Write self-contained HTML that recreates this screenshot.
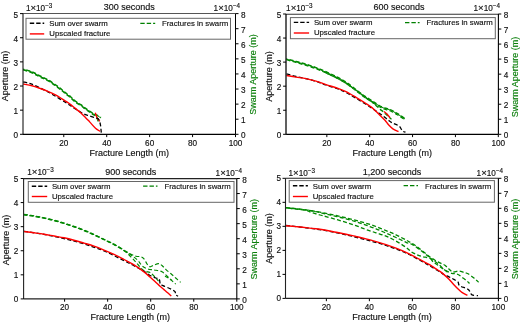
<!DOCTYPE html>
<html><head><meta charset="utf-8"><style>
html,body{margin:0;padding:0;background:#fff;width:520px;height:322px;overflow:hidden}
svg{display:block}
text{font-family:'Liberation Sans', Arial, Helvetica, sans-serif;fill:#111;stroke:#111;stroke-width:0.15px}
.tk{font-size:8.2px}
.ti{font-size:9px}
.ex{font-size:8.2px}
.sup{font-size:6.3px}
.tm{font-size:9.6px}
.gr{fill:#0a7f0a;stroke:#0a7f0a}
.lg{font-size:7.8px}
</style></head><body>
<svg width="520" height="322" viewBox="0 0 520 322">
<rect width="520" height="322" fill="#fff"/>
<path d="M23.3,69.5 C24.73,69.93 29.12,70.97 31.9,72.1 C34.68,73.23 37.35,74.97 40,76.3 C42.65,77.63 45.22,78.62 47.8,80.1 C50.38,81.58 53.17,83.57 55.5,85.2 C57.83,86.83 60.05,88.52 61.8,89.9 C63.55,91.28 64.52,92.28 66,93.5 C67.48,94.72 69.15,95.88 70.7,97.2 C72.25,98.52 73.6,100.08 75.3,101.4 C77,102.72 79.22,103.9 80.9,105.1 C82.58,106.3 84,107.58 85.4,108.6 C86.8,109.62 88,110.32 89.3,111.2 C90.6,112.08 91.92,113.18 93.2,113.9 C94.48,114.62 95.7,114.82 97,115.5 C98.3,116.18 100.33,117.58 101,118" fill="none" stroke="#080" stroke-width="1.0" />
<path d="M23.3,69.5 C24.73,69.93 29.12,70.97 31.9,72.1 C34.68,73.23 37.35,74.97 40,76.3 C42.65,77.63 45.22,78.62 47.8,80.1 C50.38,81.58 53.17,83.57 55.5,85.2 C57.83,86.83 60.05,88.52 61.8,89.9 C63.55,91.28 64.52,92.28 66,93.5 C67.48,94.72 69.15,95.88 70.7,97.2 C72.25,98.52 73.6,100.08 75.3,101.4 C77,102.72 79.22,103.9 80.9,105.1 C82.58,106.3 84,107.58 85.4,108.6 C86.8,109.62 88,110.32 89.3,111.2 C90.6,112.08 91.92,113.18 93.2,113.9 C94.48,114.62 95.7,114.82 97,115.5 C98.3,116.18 100.33,117.58 101,118" fill="none" stroke="#080" stroke-width="1.3" stroke-dasharray="4 2.3" stroke-dashoffset="3.1" transform="translate(0,-0.5)"/>
<path d="M23.3,69.9 C24.73,70.38 29.12,71.62 31.9,72.8 C34.68,73.98 37.35,75.67 40,77 C42.65,78.33 45.22,79.32 47.8,80.8 C50.38,82.28 53.17,84.27 55.5,85.9 C57.83,87.53 60.05,89.22 61.8,90.6 C63.55,91.98 64.52,92.98 66,94.2 C67.48,95.42 69.15,96.58 70.7,97.9 C72.25,99.22 73.6,100.78 75.3,102.1 C77,103.42 79.22,104.6 80.9,105.8 C82.58,107 84,108.28 85.4,109.3 C86.8,110.32 88,111.02 89.3,111.9 C90.6,112.78 92.08,113.83 93.2,114.6 C94.32,115.37 95.12,115.3 96,116.5 C96.88,117.7 98.08,120.92 98.5,121.8" fill="none" stroke="#080" stroke-width="1.3" stroke-dasharray="4 2.3" />
<path d="M95.3,112.8 C95.58,113.58 96.25,116.08 97,117.5 C97.75,118.92 99.33,120.67 99.8,121.3" fill="none" stroke="#f00" stroke-width="1.4" />
<path d="M23.3,82 C24.33,82.23 27.23,82.67 29.5,83.4 C31.77,84.13 34.32,85.25 36.9,86.4 C39.48,87.55 42.52,89.03 45,90.3 C47.48,91.57 49.42,92.62 51.8,94 C54.18,95.38 56.93,97.17 59.3,98.6 C61.67,100.03 64.23,101.5 66,102.6 C67.77,103.7 68.6,104.32 69.9,105.2 C71.2,106.08 72.5,107.02 73.8,107.9 C75.1,108.78 76.42,109.7 77.7,110.5 C78.98,111.3 80.22,112.02 81.5,112.7 C82.78,113.38 84.1,114.08 85.4,114.6 C86.7,115.12 87.87,115.32 89.3,115.8 C90.73,116.28 92.72,117.08 94,117.5 C95.28,117.92 96.2,117.97 97,118.3 C97.8,118.63 98.23,118.45 98.8,119.5 C99.37,120.55 99.98,122.42 100.4,124.6 C100.82,126.78 101.15,131.27 101.3,132.6" fill="none" stroke="#000" stroke-width="1.3" stroke-dasharray="4 2.3" />
<path d="M23.3,84 C24.75,84.3 29.22,85.07 32,85.8 C34.78,86.53 37.37,87.48 40,88.4 C42.63,89.32 45.22,90.22 47.8,91.3 C50.38,92.38 53.13,93.65 55.5,94.9 C57.87,96.15 60.25,97.72 62,98.8 C63.75,99.88 64.55,100.43 66,101.4 C67.45,102.37 69.15,103.43 70.7,104.6 C72.25,105.77 73.6,107 75.3,108.4 C77,109.8 79.22,111.5 80.9,113 C82.58,114.5 84.13,116.13 85.4,117.4 C86.67,118.67 87.57,119.6 88.5,120.6 C89.43,121.6 89.83,122.13 91,123.4 C92.17,124.67 94,126.88 95.5,128.2 C97,129.52 99.25,130.78 100,131.3" fill="none" stroke="#f00" stroke-width="1.4" />
<path d="M286.5,59.2 C288.08,59.63 292.75,60.9 296,61.8 C299.25,62.7 302.67,63.57 306,64.6 C309.33,65.63 312.67,66.73 316,68 C319.33,69.27 322.33,70.55 326,72.2 C329.67,73.85 334.67,76.17 338,77.9 C341.33,79.63 343,80.58 346,82.6 C349,84.62 353.33,88 356,90 C358.67,92 360.33,93.37 362,94.6 C363.67,95.83 364.33,96.28 366,97.4 C367.67,98.52 370.33,100.22 372,101.3 C373.67,102.38 374.33,102.88 376,103.9 C377.67,104.92 380.33,106.6 382,107.4 C383.67,108.2 384.7,108.3 386,108.7 C387.3,109.1 388.55,109.3 389.8,109.8 C391.05,110.3 392.27,111.03 393.5,111.7 C394.73,112.37 395.95,113.03 397.2,113.8 C398.45,114.57 399.7,115.43 401,116.3 C402.3,117.17 404.33,118.55 405,119" fill="none" stroke="#080" stroke-width="1.0" />
<path d="M326,72.2 C328,73.15 334.67,76.17 338,77.9 C341.33,79.63 343,80.58 346,82.6 C349,84.62 353.33,88 356,90 C358.67,92 360.33,93.37 362,94.6 C363.67,95.83 364.33,96.28 366,97.4 C367.67,98.52 370.33,100.22 372,101.3 C373.67,102.38 374.33,102.88 376,103.9 C377.67,104.92 380.33,106.6 382,107.4 C383.67,108.2 384.7,108.3 386,108.7 C387.3,109.1 388.55,109.3 389.8,109.8 C391.05,110.3 392.27,111.03 393.5,111.7 C394.73,112.37 395.95,113.03 397.2,113.8 C398.45,114.57 399.7,115.43 401,116.3 C402.3,117.17 404.33,118.55 405,119" fill="none" stroke="#080" stroke-dasharray="4 2.3" stroke-dashoffset="1.5" stroke-width="1.1" transform="translate(0,0.9)"/>
<path d="M286.5,59.2 C288.08,59.63 292.75,60.9 296,61.8 C299.25,62.7 302.67,63.57 306,64.6 C309.33,65.63 312.67,66.73 316,68 C319.33,69.27 322.33,70.55 326,72.2 C329.67,73.85 334.67,76.17 338,77.9 C341.33,79.63 343,80.58 346,82.6 C349,84.62 353.33,88 356,90 C358.67,92 360.33,93.37 362,94.6 C363.67,95.83 364.33,96.28 366,97.4 C367.67,98.52 370.33,100.22 372,101.3 C373.67,102.38 374.33,102.88 376,103.9 C377.67,104.92 380.33,106.6 382,107.4 C383.67,108.2 384.7,108.3 386,108.7 C387.3,109.1 388.55,109.3 389.8,109.8 C391.05,110.3 392.27,111.03 393.5,111.7 C394.73,112.37 395.95,113.03 397.2,113.8 C398.45,114.57 399.7,115.43 401,116.3 C402.3,117.17 404.33,118.55 405,119" fill="none" stroke="#080" stroke-width="1.3" stroke-dasharray="4 2.3" stroke-dashoffset="3.1" transform="translate(0,-0.5)"/>
<path d="M286.5,59.6 C288.08,60.08 292.75,61.55 296,62.5 C299.25,63.45 302.67,64.27 306,65.3 C309.33,66.33 312.67,67.43 316,68.7 C319.33,69.97 322.33,71.25 326,72.9 C329.67,74.55 334.67,76.87 338,78.6 C341.33,80.33 343,81.37 346,83.3 C349,85.23 352.67,87.75 356,90.2 C359.33,92.65 363.33,96.03 366,98 C368.67,99.97 370.33,100.75 372,102 C373.67,103.25 374.67,104.3 376,105.5 C377.33,106.7 378.7,108.08 380,109.2 C381.3,110.32 382.53,111.07 383.8,112.2 C385.07,113.33 386.32,114.83 387.6,116 C388.88,117.17 390.85,118.67 391.5,119.2" fill="none" stroke="#080" stroke-width="1.3" stroke-dasharray="4 2.3" />
<path d="M384,111.5 C384.5,111.92 386,112.95 387,114 C388,115.05 389.5,117.17 390,117.8" fill="none" stroke="#f00" stroke-width="1.4" />
<path d="M286.5,73.9 C288.08,74.33 292.75,75.72 296,76.5 C299.25,77.28 302.67,77.78 306,78.6 C309.33,79.42 312.67,80.33 316,81.4 C319.33,82.47 322.33,83.73 326,85 C329.67,86.27 334.67,87.75 338,89 C341.33,90.25 343,90.97 346,92.5 C349,94.03 352.67,96.23 356,98.2 C359.33,100.17 363.25,102.57 366,104.3 C368.75,106.03 370.48,107.23 372.5,108.6 C374.52,109.97 376.45,111.37 378.1,112.5 C379.75,113.63 381.08,114.43 382.4,115.4 C383.72,116.37 384.83,117.37 386,118.3 C387.17,119.23 388.25,120.18 389.4,121 C390.55,121.82 391.6,122.53 392.9,123.2 C394.2,123.87 396.05,124.42 397.2,125 C398.35,125.58 399.07,125.92 399.8,126.7 C400.53,127.48 401.02,128.9 401.6,129.7 C402.18,130.5 402.65,131.08 403.3,131.5 C403.95,131.92 405.13,132.08 405.5,132.2" fill="none" stroke="#000" stroke-width="1.3" stroke-dasharray="4 2.3" />
<path d="M286.5,75.5 C288.08,75.77 292.75,76.58 296,77.1 C299.25,77.62 302.67,77.93 306,78.6 C309.33,79.27 312.67,80.1 316,81.1 C319.33,82.1 322.33,83.4 326,84.6 C329.67,85.8 334.67,87.13 338,88.3 C341.33,89.47 343,90.1 346,91.6 C349,93.1 352.67,95.32 356,97.3 C359.33,99.28 363.33,101.78 366,103.5 C368.67,105.22 370.25,106.22 372,107.6 C373.75,108.98 375.05,110.38 376.5,111.8 C377.95,113.22 379.28,114.7 380.7,116.1 C382.12,117.5 383.7,118.75 385,120.2 C386.3,121.65 387.18,123.37 388.5,124.8 C389.82,126.23 391.23,127.67 392.9,128.8 C394.57,129.93 397.57,131.13 398.5,131.6" fill="none" stroke="#f00" stroke-width="1.4" />
<path d="M24,214.3 C25.67,214.55 30.67,215.23 34,215.8 C37.33,216.37 40.67,216.98 44,217.7 C47.33,218.42 50.67,219.22 54,220.1 C57.33,220.98 60.67,221.97 64,223 C67.33,224.03 70.67,225.13 74,226.3 C77.33,227.47 80.67,228.65 84,230 C87.33,231.35 90.67,232.87 94,234.4 C97.33,235.93 100.67,237.58 104,239.2 C107.33,240.82 110.67,242.28 114,244.1 C117.33,245.92 121.17,248.4 124,250.1 C126.83,251.8 129,253.28 131,254.3 C133,255.32 134.33,255.78 136,256.2 C137.67,256.62 139.67,256.37 141,256.8 C142.33,257.23 142.93,257.52 144,258.8 C145.07,260.08 146.4,263.17 147.4,264.5 C148.4,265.83 148.97,266.67 150,266.8 C151.03,266.93 152.18,265.83 153.6,265.3 C155.02,264.77 157.1,263.57 158.5,263.6 C159.9,263.63 160.75,264.5 162,265.5 C163.25,266.5 164.5,268.22 166,269.6 C167.5,270.98 169.33,272.37 171,273.8 C172.67,275.23 174.4,276.77 176,278.2 C177.6,279.63 179.83,281.7 180.6,282.4" fill="none" stroke="#080" stroke-dasharray="4 2.3" stroke-dashoffset="0" stroke-width="1.15"/>
<path d="M24,214.9 C25.67,215.15 30.67,215.83 34,216.4 C37.33,216.97 40.67,217.58 44,218.3 C47.33,219.02 50.67,219.82 54,220.7 C57.33,221.58 60.67,222.57 64,223.6 C67.33,224.63 70.67,225.73 74,226.9 C77.33,228.07 80.67,229.25 84,230.6 C87.33,231.95 90.67,233.47 94,235 C97.33,236.53 100.67,238.18 104,239.8 C107.33,241.42 110.67,242.88 114,244.7 C117.33,246.52 121.17,248.98 124,250.7 C126.83,252.42 128.77,253.47 131,255 C133.23,256.53 135.73,258.32 137.4,259.9 C139.07,261.48 139.9,263.27 141,264.5 C142.1,265.73 142.73,266.52 144,267.3 C145.27,268.08 147.22,268.78 148.6,269.2 C149.98,269.62 151.07,269.62 152.3,269.8 C153.53,269.98 154.38,269.97 156,270.3 C157.62,270.63 160,270.68 162,271.8 C164,272.92 165.72,274.93 168,277 C170.28,279.07 174.42,283 175.7,284.2" fill="none" stroke="#080" stroke-dasharray="4 2.3" stroke-dashoffset="1.0" stroke-width="1.15"/>
<path d="M24,214.6 C25.67,214.85 30.67,215.53 34,216.1 C37.33,216.67 40.67,217.28 44,218 C47.33,218.72 50.67,219.52 54,220.4 C57.33,221.28 60.67,222.27 64,223.3 C67.33,224.33 70.67,225.43 74,226.6 C77.33,227.77 80.67,228.95 84,230.3 C87.33,231.65 90.67,233.17 94,234.7 C97.33,236.23 100.67,237.88 104,239.5 C107.33,241.12 110.67,242.58 114,244.4 C117.33,246.22 121.33,248.47 124,250.4 C126.67,252.33 128.18,254.22 130,256 C131.82,257.78 133.45,259.52 134.9,261.1 C136.35,262.68 137.45,264.1 138.7,265.5 C139.95,266.9 141.17,268.5 142.4,269.5 C143.63,270.5 144.83,271 146.1,271.5 C147.37,272 148.68,271.75 150,272.5 C151.32,273.25 152.58,274.55 154,276 C155.42,277.45 157.75,280.33 158.5,281.2" fill="none" stroke="#080" stroke-dasharray="4 2.3" stroke-dashoffset="0.5" stroke-width="1.15"/>
<path d="M165,276.2 C165.5,276.47 166.83,277.08 168,277.8 C169.17,278.52 171.33,280.05 172,280.5" fill="none" stroke="#080" stroke-width="1.3" stroke-dasharray="4 2.3" />
<path d="M24,231.3 C27.33,231.82 37.33,233.18 44,234.4 C50.67,235.62 57.33,237.02 64,238.6 C70.67,240.18 77.33,241.85 84,243.9 C90.67,245.95 97.33,248.1 104,250.9 C110.67,253.7 119,258.23 124,260.7 C129,263.17 130.67,263.93 134,265.7 C137.33,267.47 141.33,269.67 144,271.3 C146.67,272.93 148,274.38 150,275.5 C152,276.62 154.45,277.33 156,278 C157.55,278.67 158.58,278.5 159.3,279.5 C160.02,280.5 159.68,282.98 160.3,284 C160.92,285.02 161.17,284.73 163,285.6 C164.83,286.47 169.3,288.18 171.3,289.2 C173.3,290.22 174.27,290.77 175,291.7 C175.73,292.63 175.18,294.05 175.7,294.8 C176.22,295.55 177.7,295.97 178.1,296.2" fill="none" stroke="#000" stroke-width="1.3" stroke-dasharray="4 2.3" />
<path d="M24,231.5 C25.67,231.72 30.67,232.35 34,232.8 C37.33,233.25 40.67,233.67 44,234.2 C47.33,234.73 50.67,235.4 54,236 C57.33,236.6 60.67,237.1 64,237.8 C67.33,238.5 70.67,239.32 74,240.2 C77.33,241.08 80.67,242.1 84,243.1 C87.33,244.1 90.67,245.03 94,246.2 C97.33,247.37 100.67,248.73 104,250.1 C107.33,251.47 110.67,252.83 114,254.4 C117.33,255.97 120.67,257.75 124,259.5 C127.33,261.25 130.67,262.83 134,264.9 C137.33,266.97 141.33,269.88 144,271.9 C146.67,273.92 148,275.23 150,277 C152,278.77 154.33,280.95 156,282.5 C157.67,284.05 158.67,285.12 160,286.3 C161.33,287.48 162.83,288.6 164,289.6 C165.17,290.6 165.78,291.23 167,292.3 C168.22,293.37 170.58,295.38 171.3,296" fill="none" stroke="#f00" stroke-width="1.4" />
<path d="M286,207.6 C287.67,207.77 292.67,208.23 296,208.6 C299.33,208.97 302.67,209.32 306,209.8 C309.33,210.28 312.67,210.9 316,211.5 C319.33,212.1 322.67,212.73 326,213.4 C329.33,214.07 332.67,214.77 336,215.5 C339.33,216.23 342.67,216.98 346,217.8 C349.33,218.62 352.67,219.5 356,220.4 C359.33,221.3 362.67,222.18 366,223.2 C369.33,224.22 372.67,225.27 376,226.5 C379.33,227.73 382.67,229.22 386,230.6 C389.33,231.98 392.67,233.23 396,234.8 C399.33,236.37 403.33,238.58 406,240 C408.67,241.42 410.17,242.18 412,243.3 C413.83,244.42 415.35,245.48 417,246.7 C418.65,247.92 420.25,249.28 421.9,250.6 C423.55,251.92 425.55,253.53 426.9,254.6 C428.25,255.67 428.65,256.07 430,257 C431.35,257.93 433.35,259.23 435,260.2 C436.65,261.17 438.25,261.95 439.9,262.8 C441.55,263.65 443.4,264.28 444.9,265.3 C446.4,266.32 447.8,267.9 448.9,268.9 C450,269.9 450.65,270.78 451.5,271.3 C452.35,271.82 452.77,272.05 454,272 C455.23,271.95 457.25,270.92 458.9,271 C460.55,271.08 462.38,272.03 463.9,272.5 C465.42,272.97 466.32,272.87 468,273.8 C469.68,274.73 472.23,276.7 474,278.1 C475.77,279.5 477.83,281.52 478.6,282.2" fill="none" stroke="#080" stroke-width="1.3" stroke-dasharray="4 2.3" stroke-dashoffset="0"/>
<path d="M286,207.8 C287.67,207.98 292.67,208.52 296,208.9 C299.33,209.28 302.67,209.63 306,210.1 C309.33,210.57 312.67,211.03 316,211.7 C319.33,212.37 322.67,213.32 326,214.1 C329.33,214.88 332.67,215.62 336,216.4 C339.33,217.18 342.67,217.9 346,218.8 C349.33,219.7 352.67,220.73 356,221.8 C359.33,222.87 362.67,224.03 366,225.2 C369.33,226.37 372.67,227.48 376,228.8 C379.33,230.12 382.67,231.65 386,233.1 C389.33,234.55 392.67,235.97 396,237.5 C399.33,239.03 403.33,241.15 406,242.3 C408.67,243.45 410.17,243.52 412,244.4 C413.83,245.28 415.35,246.45 417,247.6 C418.65,248.75 420.25,250.02 421.9,251.3 C423.55,252.58 425.55,254.25 426.9,255.3 C428.25,256.35 428.98,256.53 430,257.6 C431.02,258.67 431.67,260.43 433,261.7 C434.33,262.97 436.35,264.03 438,265.2 C439.65,266.37 441.25,267.62 442.9,268.7 C444.55,269.78 446.38,270.92 447.9,271.7 C449.42,272.48 450.73,273.05 452,273.4 C453.27,273.75 454.33,273.53 455.5,273.8 C456.67,274.07 457.77,274.32 459,275 C460.23,275.68 461.58,276.92 462.9,277.9 C464.22,278.88 465.8,279.97 466.9,280.9 C468,281.83 469.07,283.07 469.5,283.5" fill="none" stroke="#080" stroke-width="1.3" stroke-dasharray="4 2.3" stroke-dashoffset="2.1"/>
<path d="M286,208 C287.67,208.18 292.67,208.7 296,209.1 C299.33,209.5 303.67,209.93 306,210.4 C308.33,210.87 308.33,211.33 310,211.9 C311.67,212.47 314.33,213.28 316,213.8 C317.67,214.32 318.33,214.53 320,215 C321.67,215.47 323.33,215.87 326,216.6 C328.67,217.33 332.67,218.45 336,219.4 C339.33,220.35 342.67,221.25 346,222.3 C349.33,223.35 352.67,224.5 356,225.7 C359.33,226.9 362.67,228.32 366,229.5 C369.33,230.68 372.67,231.68 376,232.8 C379.33,233.92 382.67,234.83 386,236.2 C389.33,237.57 392.67,239.15 396,241 C399.33,242.85 403.33,245.43 406,247.3 C408.67,249.17 410.17,250.97 412,252.2 C413.83,253.43 415.35,253.98 417,254.7 C418.65,255.42 420.25,256.03 421.9,256.5 C423.55,256.97 425.55,257.22 426.9,257.5 C428.25,257.78 428.65,257.53 430,258.2 C431.35,258.87 433.33,260.28 435,261.5 C436.67,262.72 438.5,264.17 440,265.5 C441.5,266.83 442.67,268.33 444,269.5 C445.33,270.67 447.33,272 448,272.5" fill="none" stroke="#080" stroke-width="1.3" stroke-dasharray="4 2.3" stroke-dashoffset="4.2"/>
<path d="M286,225.5 C289.33,225.88 299.33,226.95 306,227.8 C312.67,228.65 319.33,229.43 326,230.6 C332.67,231.77 339.33,233.27 346,234.8 C352.67,236.33 359.33,238.02 366,239.8 C372.67,241.58 379.33,243.3 386,245.5 C392.67,247.7 399.33,249.98 406,253 C412.67,256.02 422,261.45 426,263.6 C430,265.75 427.68,264.52 430,265.9 C432.32,267.28 437.57,270.47 439.9,271.9 C442.23,273.33 442.48,273.67 444,274.5 C445.52,275.33 447.35,276.08 449,276.9 C450.65,277.72 452.42,278.57 453.9,279.4 C455.38,280.23 457.07,280.98 457.9,281.9 C458.73,282.82 458.4,284.15 458.9,284.9 C459.4,285.65 459.4,285.68 460.9,286.4 C462.4,287.12 466.38,288.3 467.9,289.2 C469.42,290.1 469.32,290.85 470,291.8 C470.68,292.75 470.67,294.27 472,294.9 C473.33,295.53 477,295.48 478,295.6" fill="none" stroke="#000" stroke-width="1.3" stroke-dasharray="4 2.3" />
<path d="M286,225.7 C287.67,225.85 292.67,226.28 296,226.6 C299.33,226.92 302.67,227.23 306,227.6 C309.33,227.97 312.67,228.35 316,228.8 C319.33,229.25 322.67,229.72 326,230.3 C329.33,230.88 332.67,231.65 336,232.3 C339.33,232.95 342.67,233.5 346,234.2 C349.33,234.9 352.67,235.72 356,236.5 C359.33,237.28 362.67,238.05 366,238.9 C369.33,239.75 372.67,240.65 376,241.6 C379.33,242.55 382.67,243.5 386,244.6 C389.33,245.7 392.67,246.9 396,248.2 C399.33,249.5 402.67,250.85 406,252.4 C409.33,253.95 412.67,255.77 416,257.5 C419.33,259.23 423.67,261.57 426,262.8 C428.33,264.03 428.33,263.88 430,264.9 C431.67,265.92 434.35,267.82 436,268.9 C437.65,269.98 438.57,270.45 439.9,271.4 C441.23,272.35 442.48,273.3 444,274.6 C445.52,275.9 447.35,277.52 449,279.2 C450.65,280.88 452.25,282.93 453.9,284.7 C455.55,286.47 457.57,288.52 458.9,289.8 C460.23,291.08 460.48,291.48 461.9,292.4 C463.32,293.32 466.48,294.82 467.4,295.3" fill="none" stroke="#f00" stroke-width="1.4" />
<line x1="23" y1="13.5" x2="235.5" y2="13.5" stroke="#555" stroke-width="1"/>
<line x1="23" y1="134.4" x2="235.5" y2="134.4" stroke="#000" stroke-width="1.1"/>
<line x1="23" y1="13.6" x2="23" y2="134.3" stroke="#000" stroke-width="1"/>
<line x1="235.5" y1="13.6" x2="235.5" y2="134.3" stroke="#000" stroke-width="1"/>
<line x1="20" y1="134.3" x2="23" y2="134.3" stroke="#000" stroke-width="1"/>
<text x="18.1" y="138.3" class="tk" text-anchor="end">0</text>
<line x1="20" y1="110.16" x2="23" y2="110.16" stroke="#000" stroke-width="1"/>
<text x="18.1" y="114.16" class="tk" text-anchor="end">1</text>
<line x1="20" y1="86.02" x2="23" y2="86.02" stroke="#000" stroke-width="1"/>
<text x="18.1" y="90.02" class="tk" text-anchor="end">2</text>
<line x1="20" y1="61.88" x2="23" y2="61.88" stroke="#000" stroke-width="1"/>
<text x="18.1" y="65.88" class="tk" text-anchor="end">3</text>
<line x1="20" y1="37.74" x2="23" y2="37.74" stroke="#000" stroke-width="1"/>
<text x="18.1" y="41.74" class="tk" text-anchor="end">4</text>
<line x1="20" y1="13.6" x2="23" y2="13.6" stroke="#000" stroke-width="1"/>
<text x="18.1" y="17.6" class="tk" text-anchor="end">5</text>
<line x1="235.5" y1="134.3" x2="238.5" y2="134.3" stroke="#000" stroke-width="1"/>
<text x="240.9" y="138.3" class="tk">0</text>
<line x1="235.5" y1="119.21" x2="238.5" y2="119.21" stroke="#000" stroke-width="1"/>
<text x="240.9" y="123.21" class="tk">1</text>
<line x1="235.5" y1="104.12" x2="238.5" y2="104.12" stroke="#000" stroke-width="1"/>
<text x="240.9" y="108.12" class="tk">2</text>
<line x1="235.5" y1="89.04" x2="238.5" y2="89.04" stroke="#000" stroke-width="1"/>
<text x="240.9" y="93.04" class="tk">3</text>
<line x1="235.5" y1="73.95" x2="238.5" y2="73.95" stroke="#000" stroke-width="1"/>
<text x="240.9" y="77.95" class="tk">4</text>
<line x1="235.5" y1="58.86" x2="238.5" y2="58.86" stroke="#000" stroke-width="1"/>
<text x="240.9" y="62.86" class="tk">5</text>
<line x1="235.5" y1="43.78" x2="238.5" y2="43.78" stroke="#000" stroke-width="1"/>
<text x="240.9" y="47.78" class="tk">6</text>
<line x1="235.5" y1="28.69" x2="238.5" y2="28.69" stroke="#000" stroke-width="1"/>
<text x="240.9" y="32.69" class="tk">7</text>
<line x1="235.5" y1="13.6" x2="238.5" y2="13.6" stroke="#000" stroke-width="1"/>
<text x="240.9" y="17.6" class="tk">8</text>
<line x1="63.78" y1="134.3" x2="63.78" y2="137.1" stroke="#000" stroke-width="1"/>
<text x="63.78" y="145.5" class="tk" text-anchor="middle">20</text>
<line x1="106.71" y1="134.3" x2="106.71" y2="137.1" stroke="#000" stroke-width="1"/>
<text x="106.71" y="145.5" class="tk" text-anchor="middle">40</text>
<line x1="149.64" y1="134.3" x2="149.64" y2="137.1" stroke="#000" stroke-width="1"/>
<text x="149.64" y="145.5" class="tk" text-anchor="middle">60</text>
<line x1="192.57" y1="134.3" x2="192.57" y2="137.1" stroke="#000" stroke-width="1"/>
<text x="192.57" y="145.5" class="tk" text-anchor="middle">80</text>
<line x1="235.5" y1="134.3" x2="235.5" y2="137.1" stroke="#000" stroke-width="1"/>
<text x="235.5" y="145.5" class="tk" text-anchor="middle">100</text>
<text x="129.25" y="9.8" class="ti" text-anchor="middle">300 seconds</text>
<text x="129.25" y="155.7" class="ti" text-anchor="middle">Fracture Length (m)</text>
<text x="25.9" y="11" class="ex">1<tspan class="tm">×</tspan>10<tspan dy="-3.0" class="sup">−3</tspan></text>
<text x="213.6" y="11.3" class="ex">1<tspan class="tm">×</tspan>10<tspan dy="-3.0" class="sup">−4</tspan></text>
<text transform="translate(8.4,75.95) rotate(-90)" class="ti" text-anchor="middle">Aperture (m)</text>
<text transform="translate(255.5,74.55) rotate(-90)" class="ti gr" text-anchor="middle">Swarm Aperture (m)</text>
<rect x="26" y="18.3" width="204.5" height="20.9" fill="#fff" stroke="#666" stroke-width="1"/>
<line x1="29.8" y1="23.2" x2="44.2" y2="23.2" stroke="#000" stroke-width="1.4" stroke-dasharray="4.4 2"/>
<line x1="29.8" y1="33.9" x2="44.2" y2="33.9" stroke="#f00" stroke-width="1.4"/>
<line x1="140.3" y1="23.4" x2="155.2" y2="23.4" stroke="#008000" stroke-width="1.4" stroke-dasharray="4.4 2"/>
<text x="49.3" y="25.8" class="lg">Sum over swarm</text>
<text x="49.3" y="35.6" class="lg">Upscaled fracture</text>
<text x="162" y="25.8" class="lg">Fractures in swarm</text>
<line x1="286.1" y1="14.2" x2="498.3" y2="14.2" stroke="#333" stroke-width="1.1"/>
<line x1="286.1" y1="134.4" x2="498.3" y2="134.4" stroke="#000" stroke-width="1.1"/>
<line x1="286" y1="14" x2="286" y2="134.3" stroke="#000" stroke-width="1.25"/>
<line x1="498.4" y1="14" x2="498.4" y2="134.3" stroke="#000" stroke-width="1.1"/>
<line x1="283.1" y1="134.3" x2="286.1" y2="134.3" stroke="#000" stroke-width="1"/>
<text x="281.2" y="138" class="tk" text-anchor="end">0</text>
<line x1="283.1" y1="110.24" x2="286.1" y2="110.24" stroke="#000" stroke-width="1"/>
<text x="281.2" y="113.94" class="tk" text-anchor="end">1</text>
<line x1="283.1" y1="86.18" x2="286.1" y2="86.18" stroke="#000" stroke-width="1"/>
<text x="281.2" y="89.88" class="tk" text-anchor="end">2</text>
<line x1="283.1" y1="62.12" x2="286.1" y2="62.12" stroke="#000" stroke-width="1"/>
<text x="281.2" y="65.82" class="tk" text-anchor="end">3</text>
<line x1="283.1" y1="38.06" x2="286.1" y2="38.06" stroke="#000" stroke-width="1"/>
<text x="281.2" y="41.76" class="tk" text-anchor="end">4</text>
<line x1="283.1" y1="14" x2="286.1" y2="14" stroke="#000" stroke-width="1"/>
<text x="281.2" y="17.7" class="tk" text-anchor="end">5</text>
<line x1="498.3" y1="134.3" x2="501.3" y2="134.3" stroke="#000" stroke-width="1"/>
<text x="503.7" y="138.3" class="tk">0</text>
<line x1="498.3" y1="119.26" x2="501.3" y2="119.26" stroke="#000" stroke-width="1"/>
<text x="503.7" y="123.26" class="tk">1</text>
<line x1="498.3" y1="104.23" x2="501.3" y2="104.23" stroke="#000" stroke-width="1"/>
<text x="503.7" y="108.23" class="tk">2</text>
<line x1="498.3" y1="89.19" x2="501.3" y2="89.19" stroke="#000" stroke-width="1"/>
<text x="503.7" y="93.19" class="tk">3</text>
<line x1="498.3" y1="74.15" x2="501.3" y2="74.15" stroke="#000" stroke-width="1"/>
<text x="503.7" y="78.15" class="tk">4</text>
<line x1="498.3" y1="59.11" x2="501.3" y2="59.11" stroke="#000" stroke-width="1"/>
<text x="503.7" y="63.11" class="tk">5</text>
<line x1="498.3" y1="44.08" x2="501.3" y2="44.08" stroke="#000" stroke-width="1"/>
<text x="503.7" y="48.08" class="tk">6</text>
<line x1="498.3" y1="29.04" x2="501.3" y2="29.04" stroke="#000" stroke-width="1"/>
<text x="503.7" y="33.04" class="tk">7</text>
<line x1="498.3" y1="14" x2="501.3" y2="14" stroke="#000" stroke-width="1"/>
<text x="503.7" y="18" class="tk">8</text>
<line x1="326.83" y1="134.3" x2="326.83" y2="137.1" stroke="#000" stroke-width="1"/>
<text x="326.83" y="145.5" class="tk" text-anchor="middle">20</text>
<line x1="369.69" y1="134.3" x2="369.69" y2="137.1" stroke="#000" stroke-width="1"/>
<text x="369.69" y="145.5" class="tk" text-anchor="middle">40</text>
<line x1="412.56" y1="134.3" x2="412.56" y2="137.1" stroke="#000" stroke-width="1"/>
<text x="412.56" y="145.5" class="tk" text-anchor="middle">60</text>
<line x1="455.43" y1="134.3" x2="455.43" y2="137.1" stroke="#000" stroke-width="1"/>
<text x="455.43" y="145.5" class="tk" text-anchor="middle">80</text>
<line x1="498.3" y1="134.3" x2="498.3" y2="137.1" stroke="#000" stroke-width="1"/>
<text x="498.3" y="145.5" class="tk" text-anchor="middle">100</text>
<text x="399" y="9.8" class="ti" text-anchor="middle">600 seconds</text>
<text x="392.2" y="155.7" class="ti" text-anchor="middle">Fracture Length (m)</text>
<text x="286.1" y="10.8" class="ex">1<tspan class="tm">×</tspan>10<tspan dy="-3.0" class="sup">−3</tspan></text>
<text x="473.5" y="11" class="ex">1<tspan class="tm">×</tspan>10<tspan dy="-3.0" class="sup">−4</tspan></text>
<text transform="translate(271.5,76.55) rotate(-90)" class="ti" text-anchor="middle">Aperture (m)</text>
<text transform="translate(518.3,76.95) rotate(-90)" class="ti gr" text-anchor="middle">Swarm Aperture (m)</text>
<rect x="290.4" y="17.6" width="204.9" height="21.1" fill="#fff" stroke="#666" stroke-width="1"/>
<line x1="293.8" y1="22.4" x2="309.1" y2="22.4" stroke="#000" stroke-width="1.4" stroke-dasharray="4.4 2"/>
<line x1="293.8" y1="33" x2="309.1" y2="33" stroke="#f00" stroke-width="1.4"/>
<line x1="405" y1="22.6" x2="419.6" y2="22.6" stroke="#008000" stroke-width="1.4" stroke-dasharray="4.4 2"/>
<text x="313.9" y="25.3" class="lg">Sum over swarm</text>
<text x="313.9" y="35.4" class="lg">Upscaled fracture</text>
<text x="426.5" y="25.3" class="lg">Fractures in swarm</text>
<line x1="23.7" y1="178.6" x2="236.8" y2="178.6" stroke="#222" stroke-width="1.1"/>
<line x1="23.7" y1="298.9" x2="236.8" y2="298.9" stroke="#222" stroke-width="1.1"/>
<line x1="23.6" y1="178.5" x2="23.6" y2="298.9" stroke="#222" stroke-width="1.1"/>
<line x1="236.8" y1="178.5" x2="236.8" y2="298.9" stroke="#000" stroke-width="1.1"/>
<line x1="20.7" y1="298.9" x2="23.7" y2="298.9" stroke="#000" stroke-width="1"/>
<text x="18.4" y="302.2" class="tk" text-anchor="end">0</text>
<line x1="20.7" y1="274.82" x2="23.7" y2="274.82" stroke="#000" stroke-width="1"/>
<text x="18.4" y="278.12" class="tk" text-anchor="end">1</text>
<line x1="20.7" y1="250.74" x2="23.7" y2="250.74" stroke="#000" stroke-width="1"/>
<text x="18.4" y="254.04" class="tk" text-anchor="end">2</text>
<line x1="20.7" y1="226.66" x2="23.7" y2="226.66" stroke="#000" stroke-width="1"/>
<text x="18.4" y="229.96" class="tk" text-anchor="end">3</text>
<line x1="20.7" y1="202.58" x2="23.7" y2="202.58" stroke="#000" stroke-width="1"/>
<text x="18.4" y="205.88" class="tk" text-anchor="end">4</text>
<line x1="20.7" y1="178.5" x2="23.7" y2="178.5" stroke="#000" stroke-width="1"/>
<text x="18.4" y="181.8" class="tk" text-anchor="end">5</text>
<line x1="236.8" y1="298.9" x2="239.8" y2="298.9" stroke="#000" stroke-width="1"/>
<text x="242.2" y="302.9" class="tk">0</text>
<line x1="236.8" y1="283.85" x2="239.8" y2="283.85" stroke="#000" stroke-width="1"/>
<text x="242.2" y="287.85" class="tk">1</text>
<line x1="236.8" y1="268.8" x2="239.8" y2="268.8" stroke="#000" stroke-width="1"/>
<text x="242.2" y="272.8" class="tk">2</text>
<line x1="236.8" y1="253.75" x2="239.8" y2="253.75" stroke="#000" stroke-width="1"/>
<text x="242.2" y="257.75" class="tk">3</text>
<line x1="236.8" y1="238.7" x2="239.8" y2="238.7" stroke="#000" stroke-width="1"/>
<text x="242.2" y="242.7" class="tk">4</text>
<line x1="236.8" y1="223.65" x2="239.8" y2="223.65" stroke="#000" stroke-width="1"/>
<text x="242.2" y="227.65" class="tk">5</text>
<line x1="236.8" y1="208.6" x2="239.8" y2="208.6" stroke="#000" stroke-width="1"/>
<text x="242.2" y="212.6" class="tk">6</text>
<line x1="236.8" y1="193.55" x2="239.8" y2="193.55" stroke="#000" stroke-width="1"/>
<text x="242.2" y="197.55" class="tk">7</text>
<line x1="236.8" y1="178.5" x2="239.8" y2="178.5" stroke="#000" stroke-width="1"/>
<text x="242.2" y="182.5" class="tk">8</text>
<line x1="64.6" y1="298.9" x2="64.6" y2="301.7" stroke="#000" stroke-width="1"/>
<text x="64.6" y="310.1" class="tk" text-anchor="middle">20</text>
<line x1="107.65" y1="298.9" x2="107.65" y2="301.7" stroke="#000" stroke-width="1"/>
<text x="107.65" y="310.1" class="tk" text-anchor="middle">40</text>
<line x1="150.7" y1="298.9" x2="150.7" y2="301.7" stroke="#000" stroke-width="1"/>
<text x="150.7" y="310.1" class="tk" text-anchor="middle">60</text>
<line x1="193.75" y1="298.9" x2="193.75" y2="301.7" stroke="#000" stroke-width="1"/>
<text x="193.75" y="310.1" class="tk" text-anchor="middle">80</text>
<line x1="236.8" y1="298.9" x2="236.8" y2="301.7" stroke="#000" stroke-width="1"/>
<text x="236.8" y="310.1" class="tk" text-anchor="middle">100</text>
<text x="130.75" y="174.7" class="ti" text-anchor="middle">900 seconds</text>
<text x="130.25" y="320.3" class="ti" text-anchor="middle">Fracture Length (m)</text>
<text x="27.3" y="175.4" class="ex">1<tspan class="tm">×</tspan>10<tspan dy="-3.0" class="sup">−3</tspan></text>
<text x="215.6" y="176" class="ex">1<tspan class="tm">×</tspan>10<tspan dy="-3.0" class="sup">−4</tspan></text>
<text transform="translate(8.5,240) rotate(-90)" class="ti" text-anchor="middle">Aperture (m)</text>
<text transform="translate(256.8,239.3) rotate(-90)" class="ti gr" text-anchor="middle">Swarm Aperture (m)</text>
<rect x="28.3" y="181.5" width="205.7" height="20.8" fill="#fff" stroke="#666" stroke-width="1"/>
<line x1="31.8" y1="186.3" x2="47.2" y2="186.3" stroke="#000" stroke-width="1.4" stroke-dasharray="4.4 2"/>
<line x1="31.8" y1="196.5" x2="47.2" y2="196.5" stroke="#f00" stroke-width="1.4"/>
<line x1="143.1" y1="186.1" x2="157.5" y2="186.1" stroke="#008000" stroke-width="1.4" stroke-dasharray="4.4 2"/>
<text x="51.9" y="188.9" class="lg">Sum over swarm</text>
<text x="51.9" y="199" class="lg">Upscaled fracture</text>
<text x="164.5" y="188.9" class="lg">Fractures in swarm</text>
<line x1="285.5" y1="178.3" x2="498.4" y2="178.3" stroke="#222" stroke-width="1.1"/>
<line x1="285.5" y1="298.4" x2="498.4" y2="298.4" stroke="#222" stroke-width="1.1"/>
<line x1="285.5" y1="178.3" x2="285.5" y2="298.4" stroke="#222" stroke-width="1.1"/>
<line x1="498.4" y1="178.3" x2="498.4" y2="298.4" stroke="#000" stroke-width="1.1"/>
<line x1="282.5" y1="298.4" x2="285.5" y2="298.4" stroke="#000" stroke-width="1"/>
<text x="281.1" y="301.3" class="tk" text-anchor="end">0</text>
<line x1="282.5" y1="274.38" x2="285.5" y2="274.38" stroke="#000" stroke-width="1"/>
<text x="281.1" y="277.28" class="tk" text-anchor="end">1</text>
<line x1="282.5" y1="250.36" x2="285.5" y2="250.36" stroke="#000" stroke-width="1"/>
<text x="281.1" y="253.26" class="tk" text-anchor="end">2</text>
<line x1="282.5" y1="226.34" x2="285.5" y2="226.34" stroke="#000" stroke-width="1"/>
<text x="281.1" y="229.24" class="tk" text-anchor="end">3</text>
<line x1="282.5" y1="202.32" x2="285.5" y2="202.32" stroke="#000" stroke-width="1"/>
<text x="281.1" y="205.22" class="tk" text-anchor="end">4</text>
<line x1="282.5" y1="178.3" x2="285.5" y2="178.3" stroke="#000" stroke-width="1"/>
<text x="281.1" y="181.2" class="tk" text-anchor="end">5</text>
<line x1="498.4" y1="298.4" x2="501.4" y2="298.4" stroke="#000" stroke-width="1"/>
<text x="503.8" y="302.4" class="tk">0</text>
<line x1="498.4" y1="283.39" x2="501.4" y2="283.39" stroke="#000" stroke-width="1"/>
<text x="503.8" y="287.39" class="tk">1</text>
<line x1="498.4" y1="268.38" x2="501.4" y2="268.38" stroke="#000" stroke-width="1"/>
<text x="503.8" y="272.38" class="tk">2</text>
<line x1="498.4" y1="253.36" x2="501.4" y2="253.36" stroke="#000" stroke-width="1"/>
<text x="503.8" y="257.36" class="tk">3</text>
<line x1="498.4" y1="238.35" x2="501.4" y2="238.35" stroke="#000" stroke-width="1"/>
<text x="503.8" y="242.35" class="tk">4</text>
<line x1="498.4" y1="223.34" x2="501.4" y2="223.34" stroke="#000" stroke-width="1"/>
<text x="503.8" y="227.34" class="tk">5</text>
<line x1="498.4" y1="208.32" x2="501.4" y2="208.32" stroke="#000" stroke-width="1"/>
<text x="503.8" y="212.32" class="tk">6</text>
<line x1="498.4" y1="193.31" x2="501.4" y2="193.31" stroke="#000" stroke-width="1"/>
<text x="503.8" y="197.31" class="tk">7</text>
<line x1="498.4" y1="178.3" x2="501.4" y2="178.3" stroke="#000" stroke-width="1"/>
<text x="503.8" y="182.3" class="tk">8</text>
<line x1="326.36" y1="298.4" x2="326.36" y2="301.2" stroke="#000" stroke-width="1"/>
<text x="326.36" y="309.6" class="tk" text-anchor="middle">20</text>
<line x1="369.37" y1="298.4" x2="369.37" y2="301.2" stroke="#000" stroke-width="1"/>
<text x="369.37" y="309.6" class="tk" text-anchor="middle">40</text>
<line x1="412.38" y1="298.4" x2="412.38" y2="301.2" stroke="#000" stroke-width="1"/>
<text x="412.38" y="309.6" class="tk" text-anchor="middle">60</text>
<line x1="455.39" y1="298.4" x2="455.39" y2="301.2" stroke="#000" stroke-width="1"/>
<text x="455.39" y="309.6" class="tk" text-anchor="middle">80</text>
<line x1="498.4" y1="298.4" x2="498.4" y2="301.2" stroke="#000" stroke-width="1"/>
<text x="498.4" y="309.6" class="tk" text-anchor="middle">100</text>
<text x="391.95" y="174.5" class="ti" text-anchor="middle">1,200 seconds</text>
<text x="391.95" y="319.8" class="ti" text-anchor="middle">Fracture Length (m)</text>
<text x="288.5" y="175.6" class="ex">1<tspan class="tm">×</tspan>10<tspan dy="-3.0" class="sup">−3</tspan></text>
<text x="476.6" y="176" class="ex">1<tspan class="tm">×</tspan>10<tspan dy="-3.0" class="sup">−4</tspan></text>
<text transform="translate(272.1,238.55) rotate(-90)" class="ti" text-anchor="middle">Aperture (m)</text>
<text transform="translate(518.4,238.95) rotate(-90)" class="ti gr" text-anchor="middle">Swarm Aperture (m)</text>
<rect x="289.2" y="180.6" width="205.2" height="21.6" fill="#fff" stroke="#666" stroke-width="1"/>
<line x1="292.9" y1="185.8" x2="307.9" y2="185.8" stroke="#000" stroke-width="1.4" stroke-dasharray="4.4 2"/>
<line x1="292.9" y1="196.5" x2="307.9" y2="196.5" stroke="#f00" stroke-width="1.4"/>
<line x1="403.6" y1="185.6" x2="418" y2="185.6" stroke="#008000" stroke-width="1.4" stroke-dasharray="4.4 2"/>
<text x="312.7" y="188.5" class="lg">Sum over swarm</text>
<text x="312.7" y="198.6" class="lg">Upscaled fracture</text>
<text x="425" y="188.5" class="lg">Fractures in swarm</text>
</svg>
</body></html>
